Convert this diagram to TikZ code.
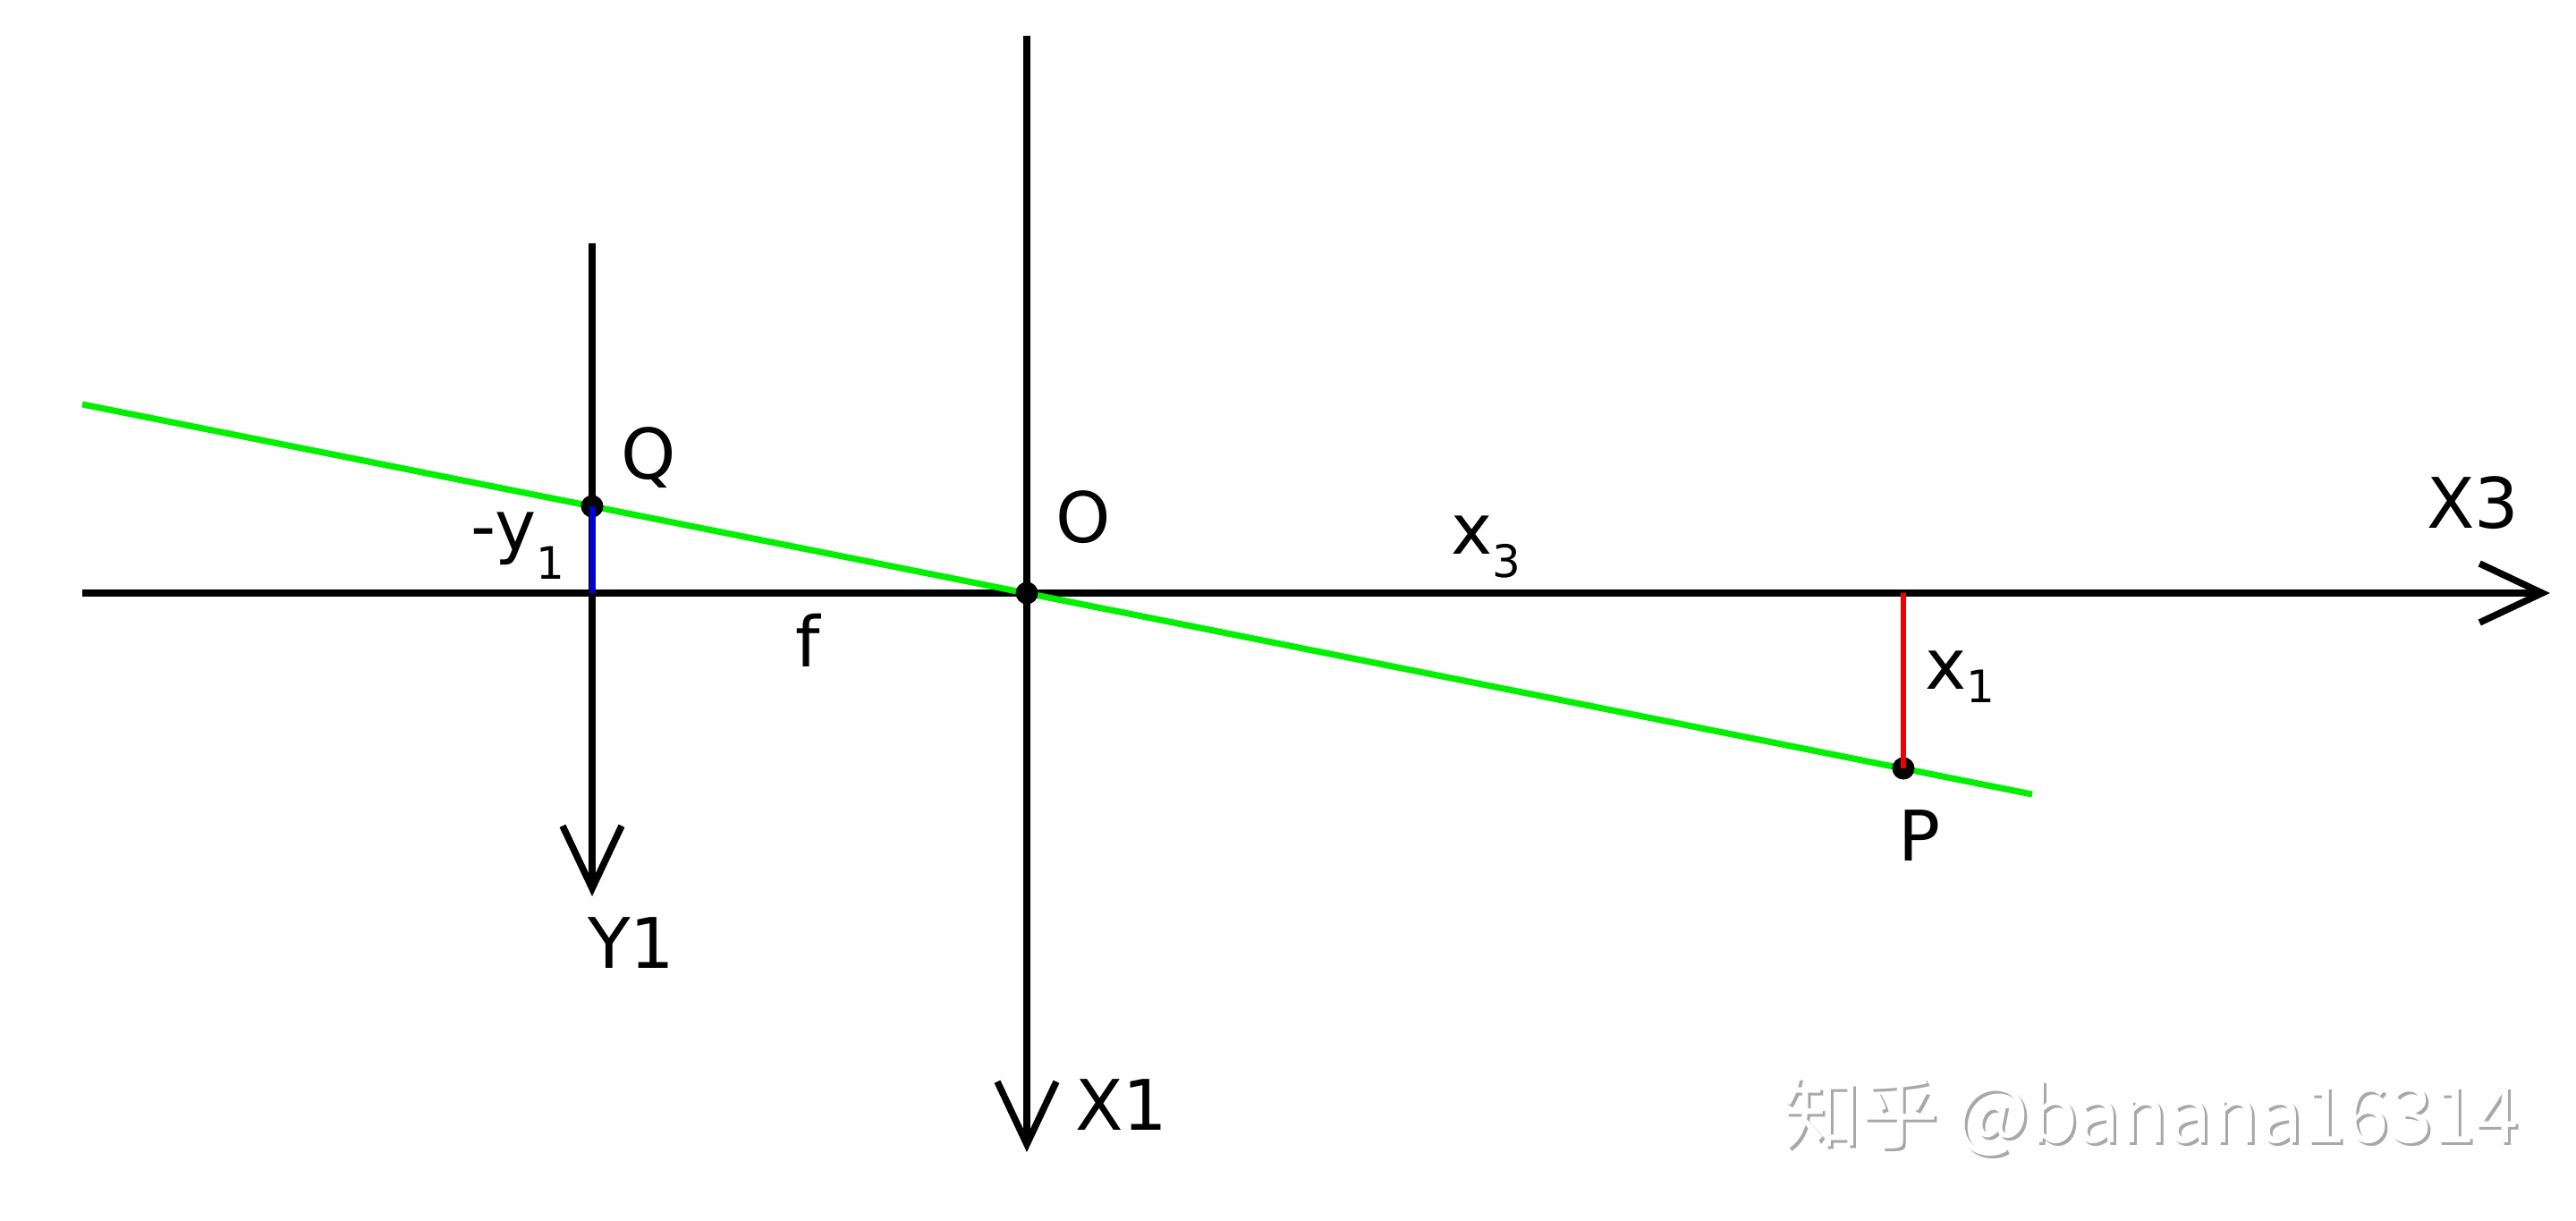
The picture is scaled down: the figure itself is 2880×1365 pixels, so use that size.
\documentclass[tikz,border=0pt]{standalone}
\usepackage{fontspec}
\setmainfont{DejaVu Sans}
\newfontfamily\cjk{Noto Sans CJK SC}
\usetikzlibrary{arrows.meta}
\definecolor{lgreen}{RGB}{0,240,0}
\definecolor{lblue}{RGB}{0,0,210}
\definecolor{lred}{RGB}{240,0,0}
\definecolor{wmgray}{RGB}{168,168,168}
\newcommand{\mainf}{\fontsize{78}{90}\selectfont}
\newcommand{\subf}{\fontsize{50}{60}\selectfont}
\begin{document}
\begin{tikzpicture}[x=1pt,y=-1pt,
  axis/.style={line width=7.5pt, -{Straight Barb[length=70pt,width=66pt]}},
  dot/.style={circle, fill=black, inner sep=0pt, minimum size=25pt},
  lbl/.style={anchor=base west, inner sep=0pt, font=\mainf},
  wmark/.style={anchor=base west, inner sep=0pt, font=\cjk\fontsize{87}{95}\selectfont}]
\fill[white] (0,0) rectangle (2880,1365);
\useasboundingbox (0,0) rectangle (2880,1365);
% axis end points
\coordinate (hL) at (92,663);
\coordinate (hR) at (2851,663);
\coordinate (vT) at (1148,40);
\coordinate (vB) at (1148,1288);
\coordinate (yT) at (662,272);
\coordinate (yB) at (662,1002);
\coordinate (gL) at (92,452);
\coordinate (gR) at (2272,888);
\coordinate (Qf) at (662,663);
\coordinate (Pf) at (2128,663);
% axes
\draw[axis] (hL) -- (hR);
\draw[axis] (vT) -- (vB);
\draw[axis] (yT) -- (yB);
% ray
\draw[lgreen, line width=7pt] (gL) -- (gR);
% points
\node[dot] (O) at (1148,663) {};
\node[dot] (Q) at (662,566) {};
\node[dot] (P) at (2128,859) {};
\draw[lblue, line width=7pt] (Q.center) -- (Qf);
\draw[lred, line width=6pt] (Pf) -- (P.center);
% labels
\node[lbl] (lQ) at (694,535) {Q};
\node[lbl] (lO) at (1180,606) {O};
\node[lbl] (lX3) at (2713,590) {X3};
\node[lbl] (lX1) at (1202,1263) {X1};
\node[lbl] (lY1) at (657,1082) {Y1};
\node[lbl] (lf) at (889,745) {f};
\node[lbl] (lP) at (2122,962) {P};
\node[lbl] (ly) at (526,615) {-y\raisebox{-32pt}{\subf 1}};
\node[lbl] (lx3) at (1622,619) {x\raisebox{-26pt}{\subf 3}};
\node[lbl] (lx1) at (2152,770) {x\raisebox{-15pt}{\subf 1}};
% watermark
\node[wmark, text=wmgray] (wm) at (1996,1280) {知乎 @banana16314};
\node[wmark, text=white] (wm2) at (1993,1277) {知乎 @banana16314};
\end{tikzpicture}
\end{document}
